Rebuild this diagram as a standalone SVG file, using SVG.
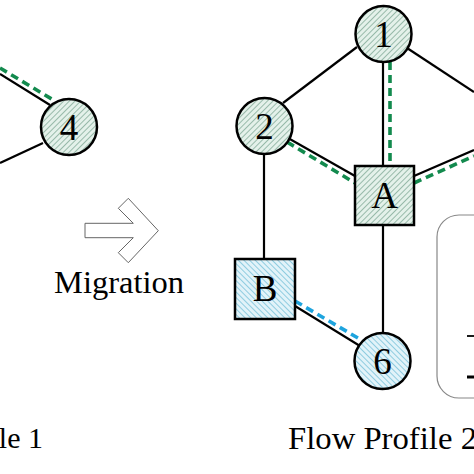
<svg xmlns="http://www.w3.org/2000/svg" width="474" height="474" viewBox="0 0 474 474">
<defs>
<pattern id="hg" patternUnits="userSpaceOnUse" width="4" height="4" patternTransform="rotate(45)">
<rect width="4" height="4" fill="#e4f1ea"/>
<line x1="0" y1="0" x2="0" y2="4" stroke="#6f9c88" stroke-width="1.3"/>
</pattern>
<pattern id="hb" patternUnits="userSpaceOnUse" width="4" height="4" patternTransform="rotate(-45)">
<rect width="4" height="4" fill="#e2f3f9"/>
<line x1="0" y1="0" x2="0" y2="4" stroke="#62b7d3" stroke-width="1.3"/>
</pattern>
</defs>
<style>
.e{stroke:#000;stroke-width:2.2;fill:none}
.g{stroke:#138a4e;stroke-width:3.6;stroke-dasharray:8 5;fill:none}
.b{stroke:#1ea4de;stroke-width:3.6;stroke-dasharray:8 5;fill:none}
.n{stroke:#000;stroke-width:2.5}
.t{font-family:"Liberation Serif","Times New Roman",serif;fill:#000}
.lbl{font-size:37px;text-anchor:middle}
</style>
<rect width="474" height="474" fill="#fff"/>
<g id="connectors">
<line class="e" x1="0" y1="74" x2="50" y2="105"/>
<line class="g" x1="0" y1="68" x2="55" y2="101"/>
<line class="e" x1="0" y1="163" x2="43" y2="143"/>
<line class="e" x1="357" y1="47" x2="283" y2="103"/>
<line class="e" x1="407" y1="48" x2="474" y2="92"/>
<line class="e" x1="383" y1="62" x2="383" y2="166"/>
<line class="g" x1="390" y1="62" x2="390" y2="166"/>
<line class="e" x1="288" y1="138" x2="355" y2="176"/>
<line class="g" x1="287" y1="142" x2="355" y2="183"/>
<line class="e" x1="414" y1="176" x2="474" y2="150"/>
<line class="g" x1="414" y1="183" x2="474" y2="156"/>
<line class="e" x1="383" y1="225" x2="383" y2="333"/>
<line class="e" x1="264" y1="154" x2="264" y2="259"/>
<line class="e" x1="295" y1="306" x2="360" y2="346"/>
<line class="b" x1="295" y1="301" x2="363" y2="341"/>
</g>
<g id="node4"><circle class="n" cx="69" cy="127" r="28" fill="url(#hg)"/><text class="t lbl" x="69" y="140">4</text></g>
<g id="node1"><circle class="n" cx="383.5" cy="34" r="28" fill="url(#hg)"/><text class="t lbl" x="383.5" y="47">1</text></g>
<g id="node2"><circle class="n" cx="264.5" cy="126" r="28" fill="url(#hg)"/><text class="t lbl" x="264.5" y="139">2</text></g>
<g id="nodeA"><rect class="n" x="355" y="166" width="59" height="59" fill="url(#hg)"/><text class="t lbl" x="384.5" y="208">A</text></g>
<g id="nodeB"><rect class="n" x="235" y="259" width="60" height="60" fill="url(#hb)"/><text class="t lbl" x="265" y="301">B</text></g>
<g id="node6"><circle class="n" cx="382.5" cy="361" r="28" fill="url(#hb)"/><text class="t lbl" x="382.5" y="374">6</text></g>
<g id="migration">
<polygon points="85,223.3 133.3,223.3 118.3,208.3 128.3,198.3 158.3,230.7 128.3,262.7 118.3,252.7 133.3,237.7 85,237.7" fill="#fff" stroke="#666" stroke-width="1"/>
<text class="t" x="54" y="293" font-size="31" textLength="130" lengthAdjust="spacingAndGlyphs">Migration</text>
</g>
<g id="legend">
<rect x="437" y="215" width="80" height="183" rx="22" fill="none" stroke="#888" stroke-width="1.2"/>
<line x1="467" y1="336" x2="474" y2="336" stroke="#000" stroke-width="1.8"/>
<line x1="467" y1="377" x2="474" y2="377" stroke="#000" stroke-width="3"/>
</g>
<text class="t" x="43" y="448" font-size="30" text-anchor="end">Flow Profile 1</text>
<text class="t" x="288" y="449" font-size="31" textLength="189" lengthAdjust="spacingAndGlyphs">Flow Profile 2</text>
</svg>
